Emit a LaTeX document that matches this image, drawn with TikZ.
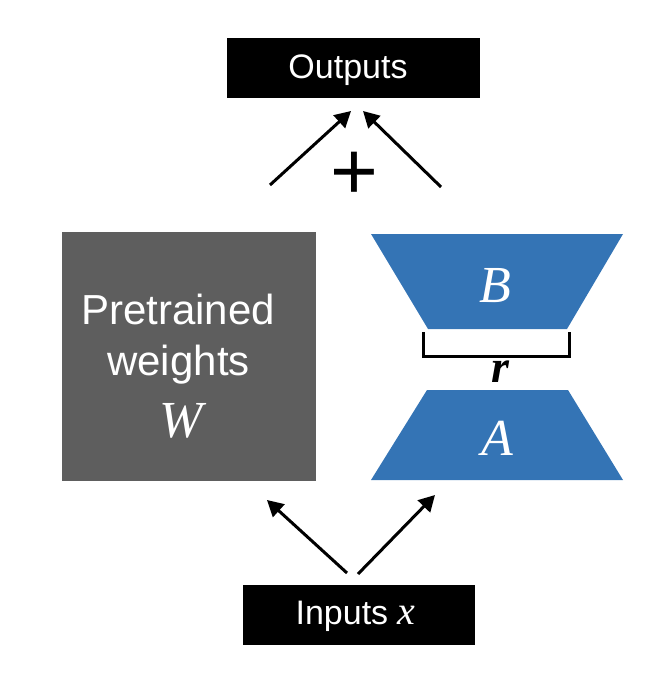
\documentclass[tikz,border=0pt]{standalone}
\usepackage{fontspec}
\setmainfont{Liberation Sans}
\newfontfamily\mathserif{Liberation Serif}
\usetikzlibrary{arrows.meta}
\definecolor{wgray}{RGB}{94,94,94}
\definecolor{lorablue}{RGB}{52,116,181}
\tikzset{
  blackbox/.style={fill=black, text=white, inner sep=0pt},
  conn/.style={line width=3pt, -{Triangle[length=16pt,width=17pt]}},
  whitetext/.style={text=white, inner sep=0pt, anchor=base},
  mletter/.style={text=white, inner sep=0pt, anchor=base, font=\mathserif\itshape\fontsize{52}{52}\selectfont},
}
\begin{document}
\begin{tikzpicture}[x=1pt,y=-1pt]
\useasboundingbox (0,0) rectangle (652,676);
% Outputs
\node[blackbox, minimum width=253pt, minimum height=60pt] (out) at (353.5,68) {};
\node[whitetext, font=\fontsize{34}{34}\selectfont] (outtext) at (348,79) {Outputs};
% Inputs
\node[blackbox, minimum width=232pt, minimum height=60pt] (in) at (359,615) {};
\node[whitetext, font=\fontsize{34}{34}\selectfont] (intext) at (355.5,624) {Inputs {\mathserif\itshape\fontsize{40}{40}\selectfont x}};
% Pretrained weights box
\node[fill=wgray, minimum width=254pt, minimum height=249pt, inner sep=0pt] (W) at (189,356.5) {};
\node[whitetext, font=\fontsize{42}{42}\selectfont] (wl1) at (178,324) {Pretrained};
\node[whitetext, font=\fontsize{42}{42}\selectfont] (wl2) at (178.5,375) {weights};
\node[mletter] (wl3) at (181,437) {W};
% B trapezoid
\fill[lorablue] (371,234) -- (623,234) -- (567,329) -- (428,329) -- cycle;
\node[mletter] (B) at (495,302) {B};
% bracket
\draw[line width=3pt, miter limit=10] (423,332) -- (423,356) -- (569,356) -- (569,332);
\node[inner sep=0pt, anchor=base, font=\mathserif\bfseries\itshape\fontsize{46}{46}\selectfont] (r) at (500,382) {r};
% A trapezoid
\fill[lorablue] (427,390) -- (568,390) -- (623,480) -- (371,480) -- cycle;
\node[mletter] (A) at (497,455) {A};
% plus
\node[inner sep=0pt, font=\fontsize{82}{82}\selectfont] (plus) at (354,176) {+};
% connector coordinates
\coordinate (t1s) at (270,185);
\coordinate (t1e) at (351,111);
\coordinate (t2s) at (441,187);
\coordinate (t2e) at (363,111);
\coordinate (b1s) at (347,573);
\coordinate (b1e) at (267,500);
\coordinate (b2s) at (358,574);
\coordinate (b2e) at (435,495);
\draw[conn] (t1s) -- (t1e);
\draw[conn] (t2s) -- (t2e);
\draw[conn] (b1s) -- (b1e);
\draw[conn] (b2s) -- (b2e);
\end{tikzpicture}
\end{document}
